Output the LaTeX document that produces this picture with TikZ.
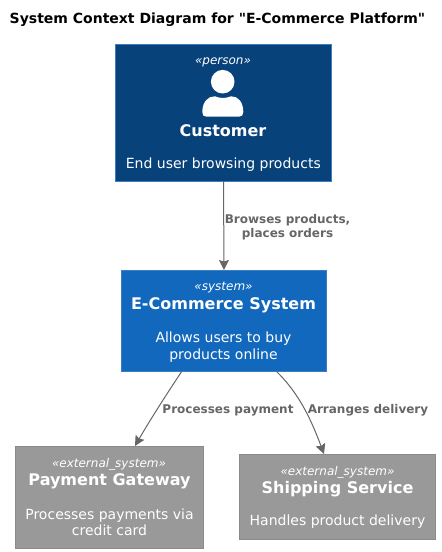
\documentclass[tikz,border=0pt]{standalone}
\usepackage{fontspec}
\setmainfont{DejaVu Sans}
\newfontfamily\plainfont{DejaVu Sans}
\usetikzlibrary{arrows.meta}
\definecolor{personbg}{HTML}{08427B}
\definecolor{systembg}{HTML}{1168BD}
\definecolor{extbg}{HTML}{999999}
\definecolor{edgeblue}{HTML}{3C7FC0}
\definecolor{edgegrey}{HTML}{8A8A8A}
\definecolor{linkgrey}{HTML}{666666}
\tikzset{
  x=1pt,y=-1pt,
  cbox/.style={anchor=north west,inner sep=0pt,outer sep=0pt,line width=1pt},
  cstereo/.style={text=white,inner sep=0pt,font=\fontsize{12}{14}\selectfont\itshape},
  cname/.style={text=white,inner sep=0pt,font=\fontsize{16}{19}\selectfont\bfseries},
  cdesc/.style={text=white,inner sep=0pt,align=center,font=\fontsize{14}{16.3}\selectfont},
  crel/.style={text=linkgrey,inner sep=0pt,align=center,font=\fontsize{12}{14}\selectfont\bfseries},
  clink/.style={draw=linkgrey,line width=1pt,-{Stealth[length=10pt,width=10pt,inset=1.5pt]}},
}
\begin{document}
\begin{tikzpicture}
\useasboundingbox (0,0) rectangle (442,552);
\node[inner sep=0pt,font=\plainfont\fontsize{14}{16}\selectfont\bfseries] (title) at (217.5,19.5) {System Context Diagram for "E-Commerce Platform"};

\node[cbox,fill=personbg,draw=edgeblue,minimum width=216pt,minimum height=137pt] (customer) at (115,44) {};
\node[cbox,fill=systembg,draw=edgeblue,minimum width=205pt,minimum height=101pt] (ecom) at (121,270) {};
\node[cbox,fill=extbg,draw=edgegrey,minimum width=188pt,minimum height=102pt] (payment) at (15,446) {};
\node[cbox,fill=extbg,draw=edgegrey,minimum width=196pt,minimum height=85pt] (shipping) at (239,454) {};

\node[cstereo] (customerS) at (223,62) {«person»};
\fill[white] (222.7,81.7) circle (11.8);
\fill[white] (202.3,112) .. controls (202.3,102) and (208,96) .. (215,96.3) .. controls (220,98.5) and (226,98.5) .. (231,96.3) .. controls (238,96) and (243.3,102) .. (243.3,112) .. controls (243.3,115) and (242,116.7) .. (239,116.7) -- (206.5,116.7) .. controls (203.5,116.7) and (202.3,115) .. (202.3,112) -- cycle;
\node[cname] (customerN) at (223,130.5) {Customer};
\node[cdesc] (customerD) at (223.3,164.7) {End user browsing products};

\node[cstereo] (ecomS) at (223.5,288) {«system»};
\node[cname] (ecomN) at (223.5,304.8) {E-Commerce System};
\node[cdesc] (ecomD) at (223.5,347) {Allows users to buy\\products online};

\node[cstereo] (paymentS) at (109,464) {«external\_system»};
\node[cname] (paymentN) at (109.5,480.8) {Payment Gateway};
\node[cdesc] (paymentD) at (109.5,522.5) {Processes payments via\\credit card};

\node[cstereo] (shippingS) at (337.5,472) {«external\_system»};
\node[cname] (shippingN) at (337.5,488.8) {Shipping Service};
\node[cdesc] (shippingD) at (337.5,522) {Handles product delivery};

\draw[clink] ([xshift=0.5pt]customer.south) -- ([xshift=0.5pt]ecom.north);
\draw[clink] ([xshift=-41.5pt]ecom.south) .. controls (168,392) and (150,420) .. ([xshift=26pt]payment.north);
\draw[clink] ([xshift=52.5pt]ecom.south) .. controls (300,394) and (312,422) .. ([xshift=-13pt]shipping.north);

\node[crel] (rel1) at (287.5,226.8) {Browses products,\\places orders};
\node[crel] (rel2) at (228,410) {Processes payment};
\node[crel] (rel3) at (368,410) {Arranges delivery};
\end{tikzpicture}
\end{document}
